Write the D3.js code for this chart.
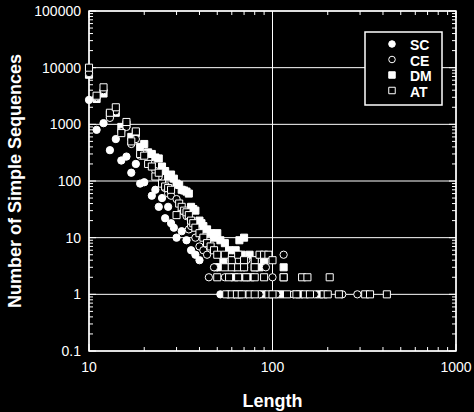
<!DOCTYPE html>
<html><head><meta charset="utf-8">
<script src="https://cdn.jsdelivr.net/npm/d3@7"></script>
<style>
body{margin:0;background:#000;}
text{font-family:"Liberation Sans",Arial,sans-serif;fill:#fff;}
</style></head>
<body><div id="chart"></div>
<script>
// series data: [length, count]
var scData = [[10,2700],[11,800],[12,1050],[13,350],[14,550],[15,230],[16,270],[17,140],[18,200],[19,90],[20,95],[22,55],[23,70],[24,35],[25,50],[26,22],[27,35],[28,18],[29,15],[30,10],[32,13],[34,9],[36,6],[38,5],[40,4],[50,3],[52,1]];
var ceData = [[10,8000],[11,3000],[12,4000],[13,1300],[14,1700],[15,750],[16,900],[17,450],[18,550],[19,280],[20,300],[22,200],[23,150],[24,120],[26,75],[27,60],[28,55],[30,48],[32,30],[34,24],[35,14],[36,16],[38,10],[40,7],[42,6],[44,5],[45,2],[48,3],[55,2],[60,4],[62,3],[65,4],[70,3],[72,4],[80,4],[92,3],[100,2],[115,5],[57,1],[62,1],[72,1],[85,1],[105,1],[130,1],[170,1],[240,1],[290,1]];
var dmData = [[10,7500],[11,2800],[12,3500],[13,1500],[14,1600],[15,900],[16,1000],[17,600],[18,700],[19,400],[20,450],[21,320],[22,300],[23,260],[24,250],[25,180],[26,150],[27,120],[28,130],[29,110],[30,90],[31,85],[32,70],[33,68],[34,65],[35,60],[36,35],[37,32],[38,30],[40,20],[41,18],[42,16],[44,14],[46,12],[48,10],[50,12],[52,9],[55,8],[58,6],[63,6],[66,9],[68,5],[70,10],[75,5],[80,3],[85,3],[90,4],[115,3],[50,3],[54,4],[62,2],[70,2],[76,2],[115,2],[66,1],[88,1],[110,1],[140,1],[180,1]];
var atData = [[10,10000],[11,3200],[12,4500],[13,1600],[14,2000],[15,700],[16,1100],[17,500],[18,750],[19,300],[20,280],[21,200],[22,180],[23,120],[24,140],[25,90],[26,80],[27,75],[28,70],[30,25],[31,40],[32,35],[33,30],[34,28],[35,25],[36,20],[37,18],[38,15],[40,12],[42,10],[44,8],[46,7],[48,6],[50,5],[55,5],[60,4],[65,5],[70,4],[80,4],[85,5],[90,5],[95,5],[100,4],[55,3],[60,3],[65,3],[70,3],[80,3],[50,2],[58,2],[65,2],[72,2],[80,2],[90,2],[115,2],[145,2],[155,2],[205,2],[56,1],[60,1],[64,1],[68,1],[75,1],[80,1],[95,1],[100,1],[120,1],[135,1],[150,1],[160,1],[190,1],[200,1],[230,1],[320,1],[340,1],[420,1]];
var seriesNames = ["SC","CE","DM","AT"];
var xTicks = [10,100,1000];
var yTicks = [0.1,1,10,100,1000,10000,100000];

var svgWidth = 474, svgHeight = 412;
var margin = {top: 11, right: 18, bottom: 61, left: 89};
var width = svgWidth - margin.left - margin.right;
var height = svgHeight - margin.top - margin.bottom;

var svg = d3.select("#chart").append("svg")
  .attr("width", svgWidth).attr("height", svgHeight)
  .style("background", "#000");
var g = svg.append("g").attr("transform", `translate(${margin.left},${margin.top})`);

var x = d3.scaleLog().domain([10, 1000]).range([0, width]);
var y = d3.scaleLog().domain([0.1, 100000]).range([height, 0]);

// gridlines
g.selectAll(".gx").data(xTicks).enter().append("line")
  .attr("x1", d => x(d)).attr("x2", d => x(d)).attr("y1", 0).attr("y2", height)
  .attr("stroke", "#fff").attr("stroke-width", 1);
g.selectAll(".gy").data(yTicks).enter().append("line")
  .attr("y1", d => y(d)).attr("y2", d => y(d)).attr("x1", 0).attr("x2", width)
  .attr("stroke", "#fff").attr("stroke-width", 1);

// minor/major ticks on all sides, inward
var xMinor = x.ticks(), yMinor = y.ticks();
function tickLen(v) { return Math.abs(Math.log10(v) - Math.round(Math.log10(v))) < 1e-6 ? 7 : 4; }
xMinor.forEach(function(v) {
  var l = tickLen(v);
  g.append("line").attr("x1", x(v)).attr("x2", x(v)).attr("y1", height).attr("y2", height - l).attr("stroke", "#fff");
  g.append("line").attr("x1", x(v)).attr("x2", x(v)).attr("y1", 0).attr("y2", l).attr("stroke", "#fff");
});
yMinor.forEach(function(v) {
  var l = tickLen(v);
  g.append("line").attr("y1", y(v)).attr("y2", y(v)).attr("x1", 0).attr("x2", l).attr("stroke", "#fff");
  g.append("line").attr("y1", y(v)).attr("y2", y(v)).attr("x1", width).attr("x2", width - l).attr("stroke", "#fff");
});
g.append("rect").attr("width", width).attr("height", height)
  .attr("fill", "none").attr("stroke", "#fff").attr("stroke-width", 1.5);

// tick labels
g.selectAll(".xl").data(xTicks).enter().append("text")
  .attr("x", d => x(d)).attr("y", height + 21).attr("text-anchor", "middle")
  .style("font-size", "14px").text(d => d);
g.selectAll(".yl").data(yTicks).enter().append("text")
  .attr("x", -8).attr("y", d => y(d) + 5).attr("text-anchor", "end")
  .style("font-size", "14px").text(d => d);

// axis titles
svg.append("text").attr("x", margin.left + x(100)).attr("y", 407).attr("text-anchor", "middle")
  .style("font-size", "18px").style("font-weight", "bold").text("Length");
svg.append("text").attr("transform", `translate(21,${margin.top + height / 2}) rotate(-90)`)
  .attr("text-anchor", "middle").style("font-size", "18px").style("font-weight", "bold")
  .text("Number of Simple Sequences");

// markers
function drawSeries(data, kind) {
  var sel = g.append("g").selectAll("path").data(data).enter().append("path")
    .attr("transform", d => `translate(${x(d[0])},${y(d[1])})`);
  var shape = kind < 2 ? d3.symbolCircle : d3.symbolSquare;
  sel.attr("d", d3.symbol().type(shape).size(kind < 2 ? 42 : 50))
    .attr("fill", kind % 2 === 0 ? "#fff" : "#000")
    .attr("stroke", "#fff").attr("stroke-width", 1);
}
drawSeries(scData, 0);
drawSeries(dmData, 2);
drawSeries(ceData, 1);
drawSeries(atData, 3);

// legend
var leg = svg.append("g").attr("transform", "translate(365,32)");
leg.append("rect").attr("width", 77).attr("height", 73).attr("fill", "#000")
  .attr("stroke", "#fff").attr("stroke-width", 1.5);
seriesNames.forEach(function(n, i) {
  leg.append("path").attr("transform", `translate(27,${12 + i * 15.5})`)
    .attr("d", d3.symbol().type(i < 2 ? d3.symbolCircle : d3.symbolSquare).size(i < 2 ? 34 : 42))
    .attr("fill", i % 2 === 0 ? "#fff" : "#000").attr("stroke", "#fff");
  leg.append("text").attr("x", 45).attr("y", 18 + i * 15.5)
    .style("font-size", "14px").style("font-weight", "bold").text(n);
});
</script>
</body></html>
